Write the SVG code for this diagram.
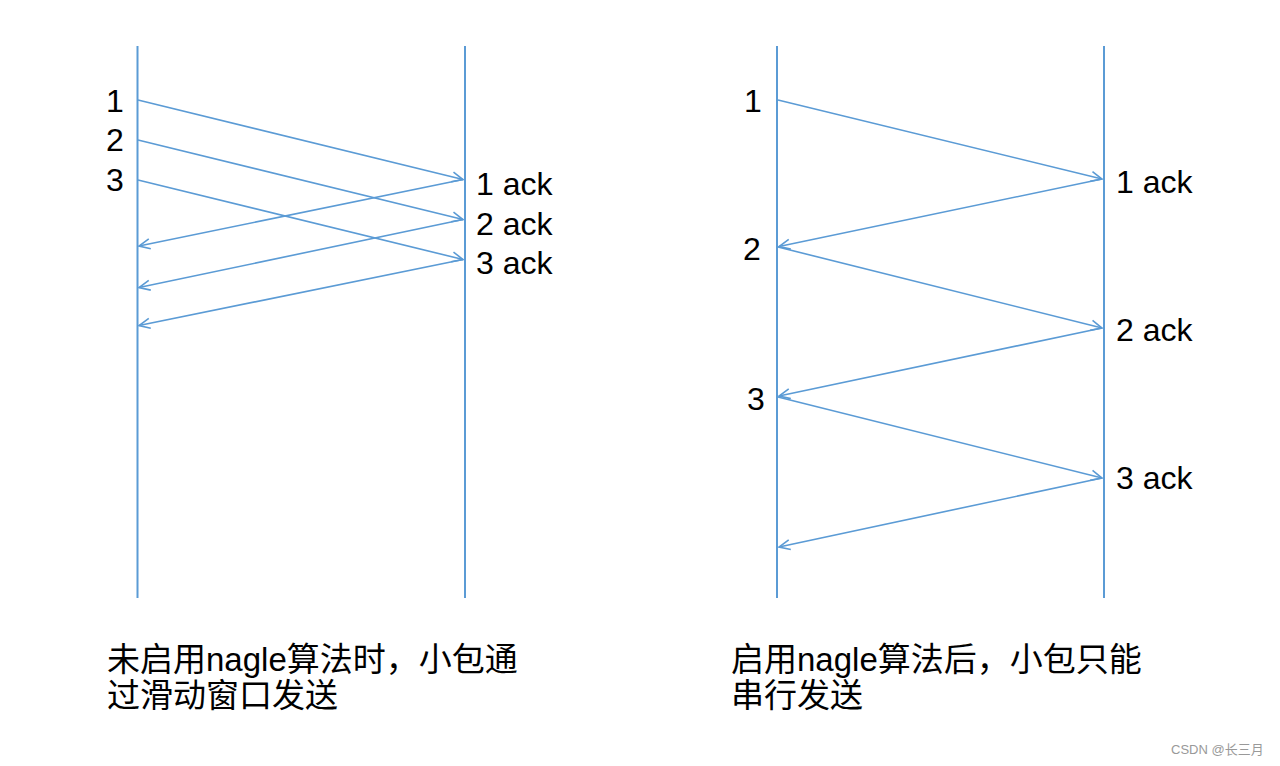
<svg xmlns="http://www.w3.org/2000/svg" width="1280" height="766" viewBox="0 0 1280 766">
<style>
.life{stroke:#5b9bd5;stroke-width:2;fill:none}
.msg{stroke:#5b9bd5;stroke-width:1.6;fill:none;marker-end:url(#ah)}
.lbl{font-family:"Liberation Sans","Noto Sans",sans-serif;font-size:32px;fill:#000}
.cap{font-family:"Liberation Sans","Noto Sans CJK SC",sans-serif;font-size:33px;fill:#000}
.wm{font-family:"Liberation Sans","Noto Sans CJK SC",sans-serif;font-size:13px;fill:#999}
</style>
<defs>
<marker id="ah" markerUnits="userSpaceOnUse" markerWidth="14" markerHeight="14" refX="12" refY="6" orient="auto" viewBox="0 0 14 12">
<path d="M1,1 L12,6 L1,11" fill="none" stroke="#5b9bd5" stroke-width="1.6"/>
</marker>
</defs>
<rect width="1280" height="766" fill="#fff"/>
<g id="left-diagram">
<g id="left-lifelines">
<line class="life" x1="137.5" y1="46" x2="137.5" y2="598"/>
<line class="life" x1="465" y1="46" x2="465" y2="598"/>
</g>
<g id="left-connectors">
<line class="msg" x1="138" y1="100" x2="463" y2="179.5"/>
<line class="msg" x1="138" y1="140" x2="463" y2="219.5"/>
<line class="msg" x1="138" y1="180" x2="463" y2="259.5"/>
<line class="msg" x1="463" y1="179.5" x2="139" y2="246"/>
<line class="msg" x1="463" y1="219.5" x2="139" y2="287.5"/>
<line class="msg" x1="463" y1="259.5" x2="139" y2="325.5"/>
</g>
<g id="left-labels">
<text class="lbl" x="106" y="112">1</text>
<text class="lbl" x="106" y="151">2</text>
<text class="lbl" x="106" y="191">3</text>
<text class="lbl" x="476" y="195">1 ack</text>
<text class="lbl" x="476" y="235">2 ack</text>
<text class="lbl" x="476" y="274">3 ack</text>
</g>
<text id="left-caption" class="cap"><tspan x="107" y="671">未启用nagle算法时，小包通</tspan><tspan x="107" y="707">过滑动窗口发送</tspan></text>
</g>
<g id="right-diagram">
<g id="right-lifelines">
<line class="life" x1="777" y1="46" x2="777" y2="598"/>
<line class="life" x1="1104" y1="46" x2="1104" y2="598"/>
</g>
<g id="right-connectors">
<line class="msg" x1="778" y1="100" x2="1102" y2="179"/>
<line class="msg" x1="1102" y1="179" x2="779" y2="246.5"/>
<line class="msg" x1="778" y1="247" x2="1102" y2="328"/>
<line class="msg" x1="1102" y1="328" x2="779" y2="396"/>
<line class="msg" x1="778" y1="397" x2="1102" y2="478"/>
<line class="msg" x1="1102" y1="478" x2="779" y2="547"/>
</g>
<g id="right-labels">
<text class="lbl" x="744" y="112">1</text>
<text class="lbl" x="743" y="260">2</text>
<text class="lbl" x="747" y="410">3</text>
<text class="lbl" x="1116" y="193">1 ack</text>
<text class="lbl" x="1116" y="341">2 ack</text>
<text class="lbl" x="1116" y="489">3 ack</text>
</g>
<text id="right-caption" class="cap"><tspan x="731" y="671">启用nagle算法后，小包只能</tspan><tspan x="731" y="707">串行发送</tspan></text>
</g>
<text class="wm" x="1171" y="754">CSDN @长三月</text>
</svg>
